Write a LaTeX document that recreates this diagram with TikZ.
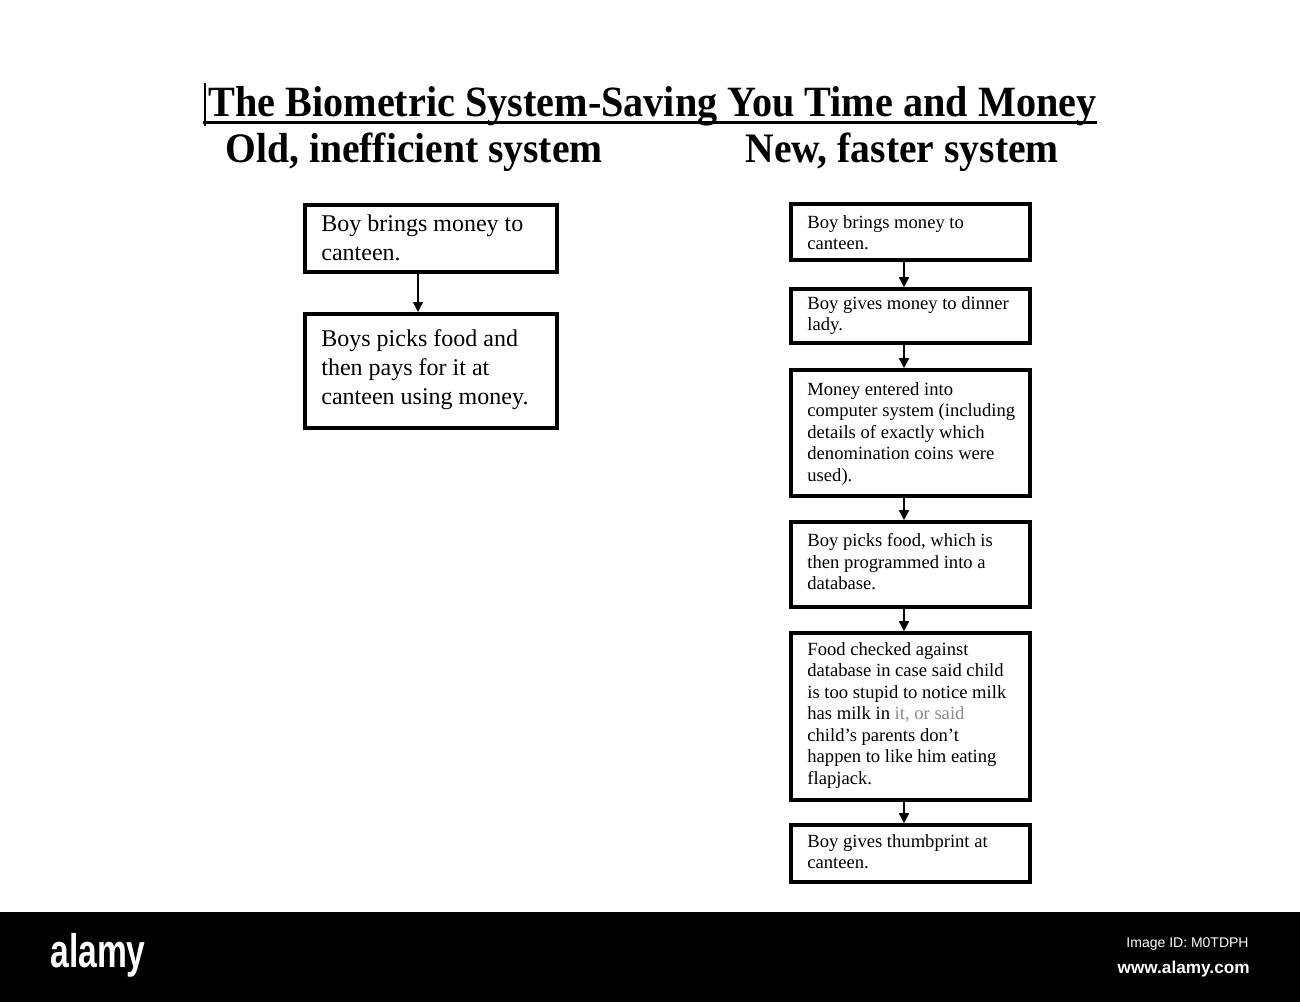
\documentclass[tikz,border=0pt]{standalone}
\usepackage{fontspec}
\usepackage{graphicx}
\setmainfont{Liberation Serif}
\newfontfamily\logofont{Liberation Sans}
\usetikzlibrary{arrows.meta}
\tikzset{
  boxL/.style={draw=black, line width=2pt, fill=white, inner sep=0pt},
  boxR/.style={draw=black, line width=1.8pt, fill=white, inner sep=0pt},
  txtL/.style={anchor=north west, inner sep=0pt, align=left, font=\fontsize{12}{14.5}\selectfont},
  txtR/.style={anchor=north west, inner sep=0pt, align=left, font=\fontsize{9.3}{10.75}\selectfont},
  arr/.style={draw=black, line width=0.8pt, -{Triangle[width=5pt,length=5pt]}},
  heading/.style={anchor=base west, inner sep=0pt, font=\bfseries\fontsize{20}{24}\selectfont},
}
\begin{document}
\begin{tikzpicture}[x=0.5pt,y=-0.5pt]
\useasboundingbox (0,0) rectangle (1300,1002);
\fill[white] (0,0) rectangle (1300,1002);
% title
\node[heading] (title) at (208,116) {\scalebox{1.005}[1.08]{The Biometric System-Saving You Time and Money}};
\coordinate (ulA) at (203,122);
\coordinate (ulB) at (1097,122);
\draw[line width=1.5pt] (ulA) -- (ulB);
\coordinate (curA) at (205,83);
\coordinate (curB) at (205,126);
\draw[line width=1pt] (curA) -- (curB);
\node[heading] (oldh) at (225,162) {\scalebox{0.99}[1.05]{Old, inefficient system}};
\node[heading] (newh) at (745,162) {\scalebox{0.99}[1.05]{New, faster system}};
% left column
\node[boxL, minimum width=126pt, minimum height=33.5pt] (L1) at (431,238.5) {};
\node[boxL, minimum width=126pt, minimum height=57pt] (L2) at (431,371) {};
\node[txtL] (L1t) at (321,214) {Boy brings money to\\canteen.};
\node[txtL] (L2t) at (321,329) {Boys picks food and\\then pays for it at\\canteen using money.};
\draw[arr] ([xshift=-6.5pt]L1.south) -- ([xshift=-6.5pt]L2.north);
% right column
\node[boxR, minimum width=119.5pt, minimum height=28pt] (R1) at (910.5,232) {};
\node[boxR, minimum width=119.5pt, minimum height=27pt] (R2) at (910.5,316) {};
\node[boxR, minimum width=119.5pt, minimum height=63pt] (R3) at (910.5,433) {};
\node[boxR, minimum width=119.5pt, minimum height=42.5pt] (R4) at (910.5,564.5) {};
\node[boxR, minimum width=119.5pt, minimum height=83.5pt] (R5) at (910.5,716.5) {};
\node[boxR, minimum width=119.5pt, minimum height=28.5pt] (R6) at (910.5,853.5) {};
\node[txtR] (R1t) at (807,215) {Boy brings money to\\canteen.};
\node[txtR] (R2t) at (807,296) {Boy gives money to dinner\\lady.};
\node[txtR] (R3t) at (807,382) {Money entered into\\computer system (including\\details of exactly which\\denomination coins were\\used).};
\node[txtR] (R4t) at (807,533) {Boy picks food, which is\\then programmed into a\\database.};
\node[txtR] (R5t) at (807,642) {Food checked against\\database in case said child\\is too stupid to notice milk\\has milk in {\color{black!45}it, or said}\\child's parents don't\\happen to like him eating\\flapjack.};
\node[txtR] (R6t) at (807,834) {Boy gives thumbprint at\\canteen.};
\draw[arr] ([xshift=-3.25pt]R1.south) -- ([xshift=-3.25pt]R2.north);
\draw[arr] ([xshift=-3.25pt]R2.south) -- ([xshift=-3.25pt]R3.north);
\draw[arr] ([xshift=-3.25pt]R3.south) -- ([xshift=-3.25pt]R4.north);
\draw[arr] ([xshift=-3.25pt]R4.south) -- ([xshift=-3.25pt]R5.north);
\draw[arr] ([xshift=-3.25pt]R5.south) -- ([xshift=-3.25pt]R6.north);
% bottom bar
\fill[black] (0,912) rectangle (1300,1002);
\node[anchor=base west, inner sep=0pt, text=white, font=\logofont\bfseries\fontsize{21}{24}\selectfont] (logo) at (50,967) {\scalebox{0.8}[1.12]{alamy}};
\node[anchor=base east, inner sep=0pt, text=white, font=\logofont\fontsize{7}{8}\selectfont] (imgid) at (1249,947) {Image ID: M0TDPH};
\node[anchor=base east, inner sep=0pt, text=white, font=\logofont\bfseries\fontsize{8.6}{9}\selectfont] (www) at (1250,973) {www.alamy.com};
\end{tikzpicture}
\end{document}
